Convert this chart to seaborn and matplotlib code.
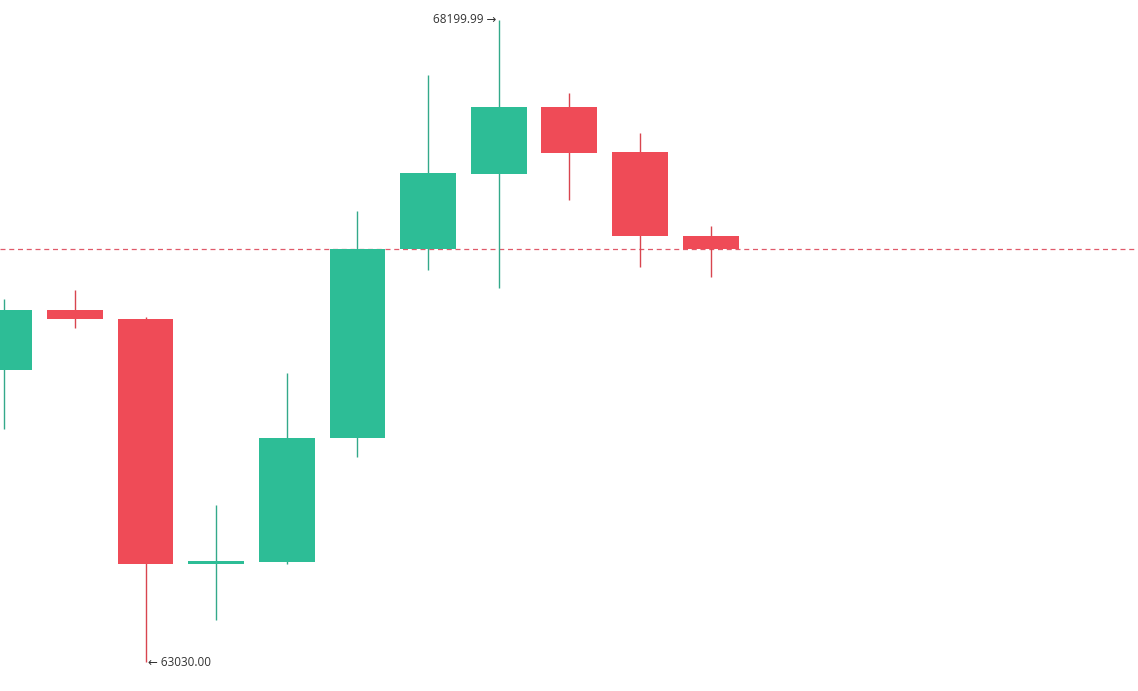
import matplotlib
matplotlib.use("Agg")
import matplotlib.pyplot as plt
import seaborn as sns
import numpy as np

opens  = [65382, 65865, 65792, 63819, 63835, 64834, 66356, 66960, 67499, 67137, 66461]
closes = [65865, 65792, 63819, 63835, 64834, 66356, 66968, 67499, 67129, 66461, 66356]
highs  = [65953, 66026, 65808, 64294, 65357, 66662, 67757, 68199.99, 67612, 67290, 66541]
lows   = [64906, 65720, 63030.00, 63368, 63819, 64681, 66187, 66042, 66750, 66211, 66130]
last_price = 66356
high_label = "68199.99 →"
low_label = "← 63030.00"

sns.set_style("white")
plt.rcParams['font.family'] = ['Open Sans', 'DejaVu Sans']

GREEN = "#2dbd96"
RED = "#ef4b57"
GREEN_W = "#33a98a"
RED_W = "#d8454f"

fig = plt.figure(figsize=(11.38, 6.91), dpi=100)
ax = fig.add_axes([0, 0, 1, 1])

x = np.arange(len(opens))
o = np.array(opens, float); c = np.array(closes, float)
h = np.array(highs, float); l = np.array(lows, float)
up = c >= o
bottoms = np.minimum(o, c)
heights = np.maximum(np.abs(c - o), 24)
body_col = [GREEN if u else RED for u in up]
wick_col = [GREEN_W if u else RED_W for u in up]

ax.vlines(x, l, h, colors=wick_col, linewidth=1, zorder=1)
ax.bar(x, heights, bottom=bottoms, width=0.79, color=body_col, linewidth=0, zorder=2)

ax.axhline(last_price, color="#e05a6a", linestyle=(0, (4, 3)), linewidth=0.9, zorder=0)

ih = int(np.argmax(h)); il = int(np.argmin(l))
ax.text(ih - 0.04, h[ih], high_label, ha="right", va="center", fontsize=8.5, color="#333333")
ax.text(il + 0.04, l[il], low_label, ha="left", va="center", fontsize=8.5, color="#333333")

ax.set_xlim(-0.06, 16.05)
ax.set_ylim(62796.5, 68361)
ax.axis("off")

fig.savefig("out.png", dpi=100, facecolor="white")
